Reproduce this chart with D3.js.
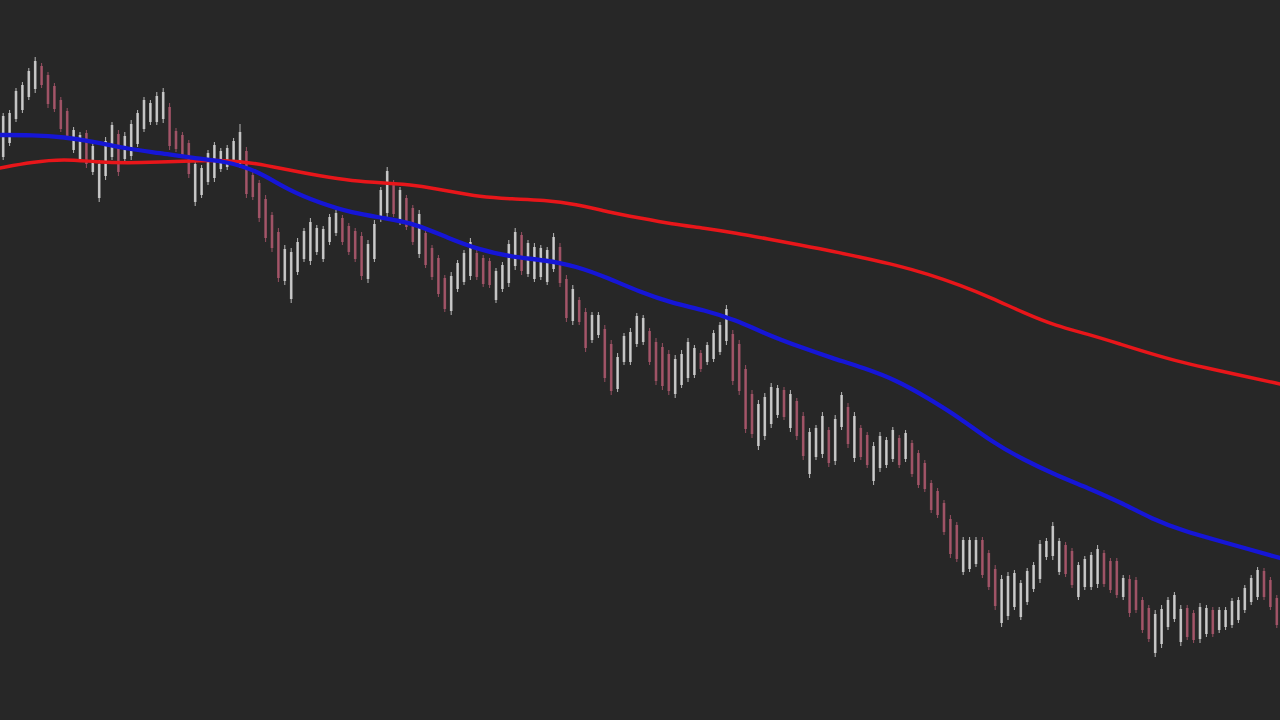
<!DOCTYPE html>
<html>
<head>
<meta charset="utf-8">
<script src="https://cdn.jsdelivr.net/npm/d3@7/dist/d3.min.js"></script>
<style>
html,body{margin:0;padding:0;background:#272727;overflow:hidden;}
svg{display:block;}
</style>
</head>
<body>
<svg id="chart" width="1280" height="720"></svg>
<script>
// ---- data (price units) ----
const open = [643,657,681,690,703,711,734,725,714,700,689,650,641,667,628,602,624,643,666,641,
644,656,671,678,678,681,693,669,665,657,598,605,618,622,631,633,638,636,649,625,
617,601,585,568,519,501,528,541,539,548,541,558,567,582,574,569,564,521,541,581,
587,617,578,602,592,546,567,552,542,522,489,511,518,524,547,542,539,500,511,517,
534,565,526,521,523,518,531,553,521,479,500,488,460,465,471,456,411,438,438,456,
458,469,458,453,446,406,415,422,425,447,438,441,448,459,466,456,431,406,354,364,
376,385,410,372,399,384,326,343,346,370,339,373,393,342,372,365,319,332,335,341,
362,341,357,347,337,317,309,297,281,275,228,231,236,260,247,231,177,184,193,183,
198,211,221,243,244,228,255,249,203,213,213,216,247,239,239,203,221,220,200,192,
147,156,173,181,158,192,187,161,166,190,170,173,175,180,190,198,203,229,220,202];
const high = [687,690,712,718,732,743,737,728,717,703,692,673,668,670,657,640,663,678,670,668,
680,690,703,700,708,712,697,672,668,660,640,635,650,658,652,655,662,676,653,628,
620,605,588,572,555,552,562,572,582,575,574,586,590,585,577,572,568,560,580,613,
633,620,613,605,595,590,570,555,545,525,528,540,550,562,550,545,542,532,538,560,
572,568,560,557,555,553,567,557,525,515,503,492,488,488,475,460,447,467,472,487,
485,472,462,457,450,445,450,462,455,450,458,470,478,495,470,460,435,410,400,407,
417,415,413,410,402,388,372,375,388,373,385,408,397,388,375,368,358,368,363,373,
365,370,360,350,340,320,312,300,285,278,263,263,263,263,250,235,225,228,230,220,
232,238,260,262,278,262,258,252,238,244,248,255,250,242,242,225,225,223,203,195,
190,195,203,208,195,195,190,197,195,193,193,193,202,203,215,225,233,232,223,205];
const low = [640,654,678,687,700,707,712,692,688,668,660,647,638,632,625,598,620,640,624,638,
640,653,668,675,675,677,650,648,642,622,594,602,615,618,628,630,635,632,602,600,
578,558,548,518,515,497,525,538,535,545,538,555,564,555,545,538,520,517,538,578,
583,583,575,570,555,542,532,520,503,488,485,508,515,520,520,513,512,497,508,513,
530,525,523,518,520,515,528,513,478,475,475,448,457,462,418,405,408,435,435,453,
455,435,415,410,405,402,412,418,422,428,435,438,445,455,415,405,367,362,350,360,
372,382,380,368,360,340,322,340,342,333,335,370,352,338,340,332,315,328,332,338,
332,338,323,312,308,287,282,265,242,238,225,228,233,222,210,190,173,180,190,180,
195,208,217,240,240,225,223,212,200,210,210,212,213,207,202,200,183,187,167,158,
143,152,170,178,154,160,157,157,163,163,167,170,172,177,187,195,200,200,190,172];
const close = [684,687,709,715,729,739,715,696,691,671,664,670,665,636,654,636,659,675,628,664,
676,687,700,697,704,708,654,651,645,626,636,632,647,655,649,652,659,668,606,603,
582,562,552,522,551,548,558,569,578,572,571,583,587,558,548,541,524,556,576,610,
629,586,610,573,558,586,535,523,506,491,524,537,547,558,523,516,515,529,535,556,
568,529,557,553,552,550,563,517,482,511,478,452,485,485,422,409,443,464,468,484,
482,438,419,414,409,441,446,458,452,431,455,467,475,491,419,409,371,366,396,403,
413,412,383,406,364,344,368,372,384,337,381,405,356,384,343,335,354,364,360,370,
335,367,326,315,311,290,285,268,246,241,260,260,260,225,213,194,221,224,227,217,
229,235,256,259,274,259,226,215,235,241,245,251,216,210,205,222,187,190,170,161,
186,191,200,205,191,163,160,193,192,166,190,190,199,200,212,222,230,203,193,175];

// moving averages, sampled every 5 bars
const fastMA = [665,665,663,658,651,647,642,639,630,610,597,587,582,576,562,550,543,540,534,522,
508,497,490,480,465,453,442,432,420,402,382,358,340,325,312,298,281,269,260,251,242];
const slowMA = [632,638,641,638,637,638,639,640,637,630,624,619,617,615,609,603,601,600,596,588,
582,576,572,567,561,555,549,542,535,526,515,502,487,474,466,456,446,437,430,423,416];
const maStep = 5;

// ---- chart ----
const W = 1280, H = 720;
const svg = d3.select('#chart');
svg.append('rect').attr('width', W).attr('height', H).attr('fill', '#272727');

const n = open.length;
const x = d3.scaleLinear().domain([-0.5, n - 0.5]).range([0, W]);
const y = d3.scaleLinear().domain([80, 800]).range([H, 0]);

const bars = d3.range(n).map(i => ({i, o: open[i], h: high[i], l: low[i], c: close[i]}));
const upCol = '#d0d0d0', downCol = '#a8566b';
const bodyW = 2.6;

const g = svg.append('g');
const cand = g.selectAll('g.c').data(bars).join('g').attr('class', 'c');
cand.append('line')
  .attr('x1', d => x(d.i)).attr('x2', d => x(d.i))
  .attr('y1', d => y(d.h)).attr('y2', d => y(d.l))
  .attr('stroke', d => d.c >= d.o ? upCol : downCol)
  .attr('stroke-width', 1).attr('opacity', 0.85);
cand.append('rect')
  .attr('x', d => x(d.i) - bodyW / 2).attr('width', bodyW)
  .attr('y', d => y(Math.max(d.o, d.c)))
  .attr('height', d => Math.max(1, y(Math.min(d.o, d.c)) - y(Math.max(d.o, d.c))))
  .attr('fill', d => d.c >= d.o ? upCol : downCol)
  .attr('opacity', 0.88);

const maLine = d3.line()
  .x((d, k) => x(k * maStep - 0.5))
  .y(d => y(d))
  .curve(d3.curveBasis);

svg.append('path').datum(slowMA).attr('d', maLine)
  .attr('fill', 'none').attr('stroke', '#e8161a').attr('stroke-width', 3.5)
  .attr('stroke-linecap', 'round');
svg.append('path').datum(fastMA).attr('d', maLine)
  .attr('fill', 'none').attr('stroke', '#1616d6').attr('stroke-width', 4.3)
  .attr('stroke-linecap', 'round');
</script>
</body>
</html>
